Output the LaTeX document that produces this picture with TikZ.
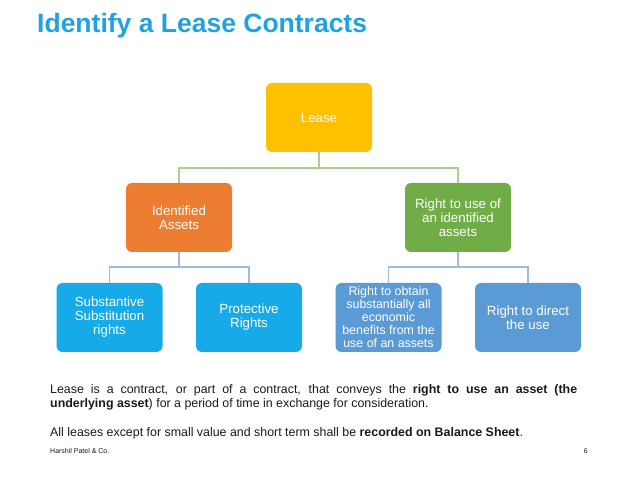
\documentclass[tikz,border=0pt]{standalone}
\usepackage{fontspec}
\setmainfont{Liberation Sans}
\usepackage{tikz}

\definecolor{titleblue}{HTML}{1FA2E2}
\definecolor{leaseyellow}{HTML}{FFC000}
\definecolor{assetorange}{HTML}{ED7D31}
\definecolor{rightgreen}{HTML}{70AD47}
\definecolor{cyanbox}{HTML}{17AAE8}
\definecolor{bluebox}{HTML}{5B9BD5}
\definecolor{greenlink}{HTML}{A9D18E}
\definecolor{bluelink}{HTML}{9DBBDD}
\definecolor{bodytext}{HTML}{1A1A1A}

\begin{document}
\begin{tikzpicture}[x=1pt, y=-1pt,
    box/.style={rounded corners=6pt, minimum width=106pt, minimum height=69pt,
      inner sep=1pt, text=white, align=center,
      font=\fontsize{13.3}{14}\selectfont},
    toplink/.style={draw=greenlink, line width=1.4pt},
    sublink/.style={draw=bluelink, line width=1.4pt}]

    % Page and margins
    \useasboundingbox[fill=white] (0,0) rectangle (638,478);

    % Title
    \node[anchor=base west, inner sep=0, text=titleblue,
      font=\fontsize{26.5}{30}\selectfont\bfseries] (title) at (37,33) {Identify a Lease Contracts};

    % Top level
    \node[box, fill=leaseyellow] (lease) at (319,117.5) {Lease};

    % Second level
    \node[box, fill=assetorange] (ident) at (179,217.5) {Identified\\Assets};
    \node[box, fill=rightgreen] (rightuse) at (458,217.5) {Right to use of\\an identified\\assets};

    % Third level, left
    \node[box, fill=cyanbox] (subst) at (109.5,317.5) {Substantive\\Substitution\\rights};
    \node[box, fill=cyanbox] (protect) at (249,317.5) {Protective\\Rights};

    % Third level, right
    \node[box, fill=bluebox, font=\fontsize{12.4}{13}\selectfont] (obtain) at (388.5,317.5)
      {Right to obtain\\substantially all\\economic\\benefits from the\\use of an assets};
    \node[box, fill=bluebox] (direct) at (528,317.5) {Right to direct\\the use};

    % Connectors
    \draw[toplink] (lease.south) -- ++(0,16) -| (ident.north);
    \draw[toplink] (lease.south) -- ++(0,16) -| (rightuse.north);
    \draw[sublink] (ident.south) -- ++(0,15) -| (subst.north);
    \draw[sublink] (ident.south) -- ++(0,15) -| (protect.north);
    \draw[sublink] (rightuse.south) -- ++(0,15) -| (obtain.north);
    \draw[sublink] (rightuse.south) -- ++(0,15) -| (direct.north);

    % Body text
    \node[anchor=north west, inner sep=0, text width=527pt, align=justify, text=bodytext,
      font=\fontsize{12.4}{14.5}\selectfont] (para1) at (50,384)
      {Lease is a contract, or part of a contract, that conveys the \textbf{right to use an asset (the}\linebreak
       \textbf{underlying asset}) for a period of time in exchange for consideration.};
    \node[anchor=base west, inner sep=0, text=bodytext,
      font=\fontsize{12.4}{14.5}\selectfont] (para2) at (50,437)
      {All leases except for small value and short term shall be \textbf{recorded on Balance Sheet}.};

    % Footer
    \node[anchor=base west, inner sep=0, font=\fontsize{7}{8}\selectfont, text=bodytext] (footer) at (50,454) {Harshil Patel \& Co.};
    \node[anchor=base east, inner sep=0, font=\fontsize{7}{8}\selectfont, text=bodytext] (pagenum) at (588,454) {6};
\end{tikzpicture}
\end{document}
